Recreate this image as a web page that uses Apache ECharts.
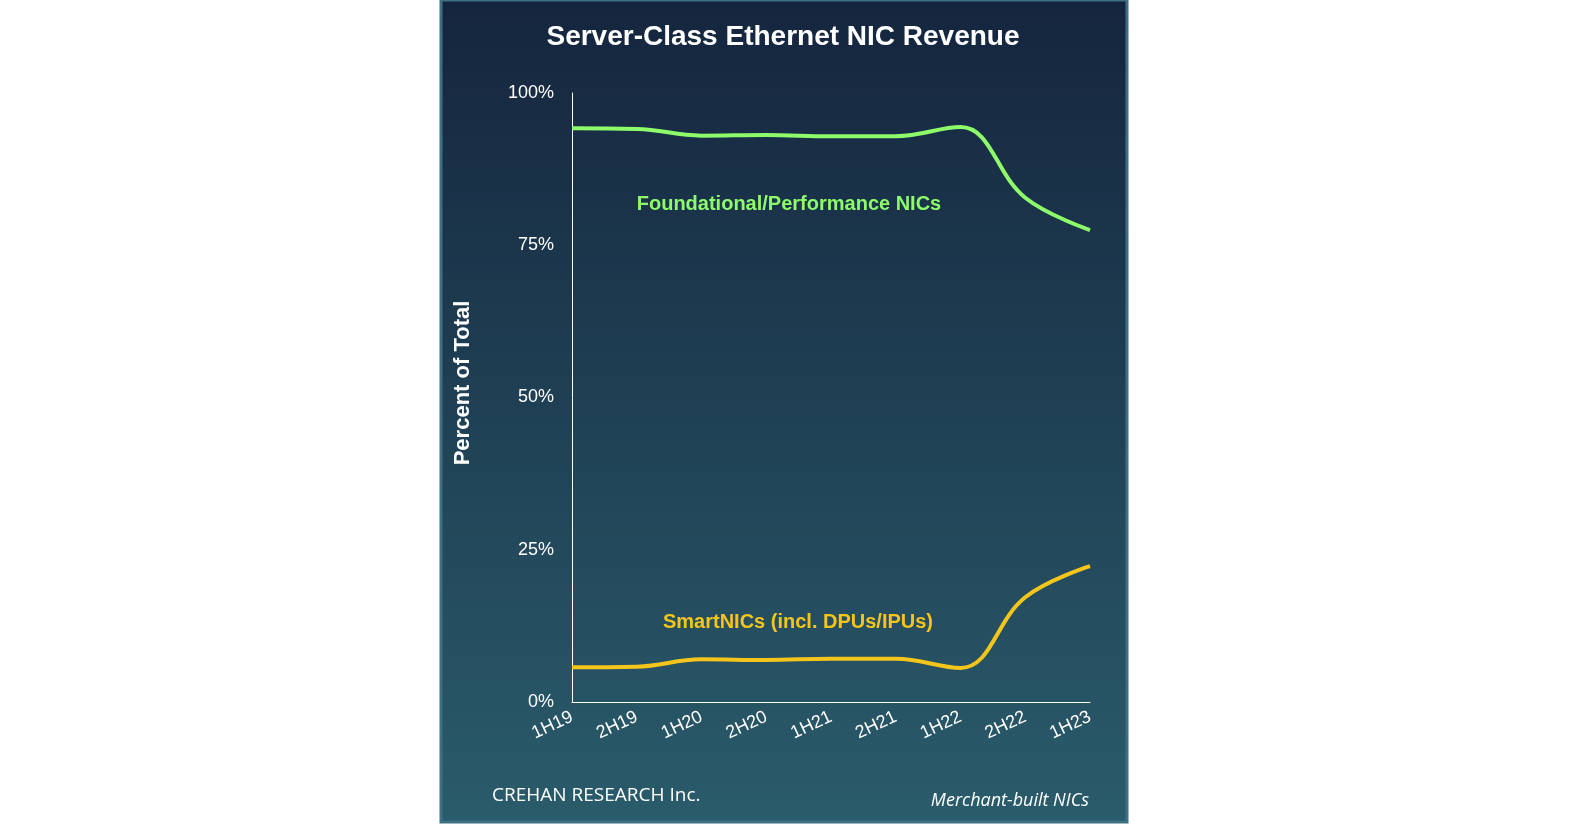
<!DOCTYPE html>
<html><head><meta charset="utf-8">
<script src="https://cdn.jsdelivr.net/npm/echarts@6/dist/echarts.min.js"></script>
<style>html,body{margin:0;background:#fff}#main{width:1591px;height:833px}</style>
</head><body><div id="main"></div>
<script>
// half-year periods
let periods = ['1H19', '2H19', '1H20', '2H20', '1H21', '2H21', '1H22', '2H22', '1H23'];
let foundational = [94.2, 94.1, 93.0, 93.1, 92.9, 92.9, 94.4, 82.8, 77.5];
let smartNics = [5.7, 5.8, 7.0, 6.9, 7.1, 7.1, 5.6, 17.2, 22.3];
let yTicks = [0, 25, 50, 75, 100];

let myChart = echarts.init(document.getElementById('main'));

let option = {
  backgroundColor: '#fff',
  textStyle: { fontFamily: 'Liberation Sans, Arial, sans-serif' },
  graphic: [
    {
      type: 'rect', z: -10,
      shape: { x: 441, y: 0, width: 686, height: 822 },
      style: {
        fill: new echarts.graphic.LinearGradient(0, 0, 0, 1, [
          { offset: 0, color: '#15253e' },
          { offset: 1, color: '#2a5c6b' }
        ]),
        stroke: '#3f6f82', lineWidth: 3
      }
    },
    {
      type: 'text', left: 'center', top: 20,
      style: { text: 'Server-Class Ethernet NIC Revenue', x: 783, fill: '#fff', font: 'bold 28px Liberation Sans, Arial', textAlign: 'center' },
      position: [0, 0]
    },
    {
      type: 'text', x: 789, y: 204,
      style: { text: 'Foundational/Performance NICs', fill: '#8dfb6a', font: 'bold 20px Liberation Sans, Arial', align: 'center', verticalAlign: 'middle' }
    },
    {
      type: 'text', x: 798, y: 622,
      style: { text: 'SmartNICs (incl. DPUs/IPUs)', fill: '#f4c51b', font: 'bold 20px Liberation Sans, Arial', align: 'center', verticalAlign: 'middle' }
    },
    {
      type: 'text', x: 463, y: 383, rotation: Math.PI / 2,
      style: { text: 'Percent of Total', fill: '#fff', font: 'bold 22px Liberation Sans, Arial', align: 'center', verticalAlign: 'middle' }
    },
    {
      type: 'text', x: 492, y: 796,
      style: { text: 'CREHAN RESEARCH Inc.', fill: '#fff', font: '19px Open Sans, Arial', verticalAlign: 'middle' }
    },
    {
      type: 'text', x: 1089, y: 801,
      style: { text: 'Merchant-built NICs', fill: '#fff', font: 'italic 18px Open Sans, Arial', align: 'right', verticalAlign: 'middle' }
    }
  ],
  grid: { left: 572, right: 501, top: 93, bottom: 131 },
  xAxis: {
    type: 'category', boundaryGap: false, data: periods,
    axisLine: { lineStyle: { color: '#fff', width: 1 } },
    axisTick: { show: false },
    axisLabel: { color: '#fff', fontSize: 18, rotate: 25, margin: 14 }
  },
  yAxis: {
    type: 'value', min: 0, max: 100, interval: 25,
    axisLine: { show: true, lineStyle: { color: '#fff', width: 1 } },
    axisTick: { show: false },
    splitLine: { show: false },
    axisLabel: { color: '#fff', fontSize: 18, margin: 18, formatter: v => yTicks.includes(v) ? v + '%' : '' }
  },
  series: [
    {
      name: 'Foundational/Performance NICs', type: 'line', smooth: 0.4, symbol: 'none',
      lineStyle: { color: '#8dfb6a', width: 4 }, data: foundational
    },
    {
      name: 'SmartNICs (incl. DPUs/IPUs)', type: 'line', smooth: 0.4, symbol: 'none',
      lineStyle: { color: '#f4c51b', width: 4 }, data: smartNics
    }
  ]
};
option.graphic[1] = {
  type: 'text', x: 783, y: 37,
  style: { text: 'Server-Class Ethernet NIC Revenue', fill: '#fff', font: 'bold 28px Liberation Sans, Arial', align: 'center', verticalAlign: 'middle' }
};
myChart.setOption(option);
</script>
</body></html>
